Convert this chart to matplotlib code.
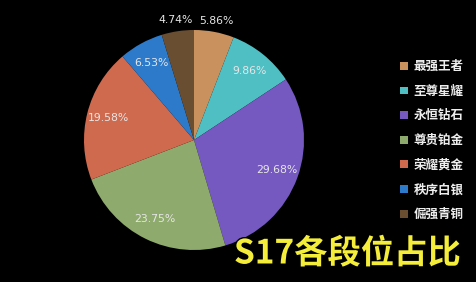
import matplotlib
matplotlib.use("Agg")
import matplotlib.pyplot as plt
import matplotlib.patheffects as pe
import numpy as np

plt.rcParams['font.family'] = ['Noto Sans CJK SC', 'DejaVu Sans']

categories = ["最强王者", "至尊星耀", "永恒钻石", "尊贵铂金", "荣耀黄金", "秩序白银", "倔强青铜"]
values = [5.86, 9.86, 29.68, 23.75, 19.58, 6.53, 4.74]
colors = ["#c8915e", "#4fbfc4", "#7558c0", "#8eaa6c", "#cf6a4e", "#2d7acb", "#6a4e32"]
title = "S17各段位占比"

fig = plt.figure(figsize=(4.77, 2.82), dpi=100)
fig.patch.set_facecolor("black")
ax = fig.add_axes([84/477, 32/282, 220/477, 220/282])
ax.set_facecolor("black")

wedges, _ = ax.pie(values, colors=colors, startangle=90, counterclock=False,
                   radius=1.0, wedgeprops=dict(linewidth=0))
ax.set_xlim(-1, 1)
ax.set_ylim(-1, 1)
ax.set_aspect("equal")
ax.axis("off")

for w, v in zip(wedges, values):
    mid = np.deg2rad((w.theta1 + w.theta2) / 2)
    d = 1.1 if v < 6 else 0.8
    ax.text(d * np.cos(mid), d * np.sin(mid), f"{v:.2f}%", ha="center", va="center",
            fontsize=7.8, color="#e6e6e6", family="DejaVu Sans", clip_on=False)

handles = [plt.Rectangle((0, 0), 1, 1, facecolor=c, edgecolor="none") for c in colors]
leg = fig.legend(handles, categories, loc="upper left", bbox_to_anchor=(389/477, 1 - 49/282),
                 frameon=False, prop=dict(size=9, weight="bold"), labelcolor="#eeeeee",
                 handlelength=0.6, handleheight=0.6, handletextpad=0.45, labelspacing=0.93)

fig.text(461/477, 1 - 254/282, title, ha="right", va="center", fontsize=24,
         fontweight="bold", color="#f4ee3a",
         path_effects=[pe.withStroke(linewidth=2, foreground="black")])

fig.savefig("out.png", dpi=100, facecolor="black")
